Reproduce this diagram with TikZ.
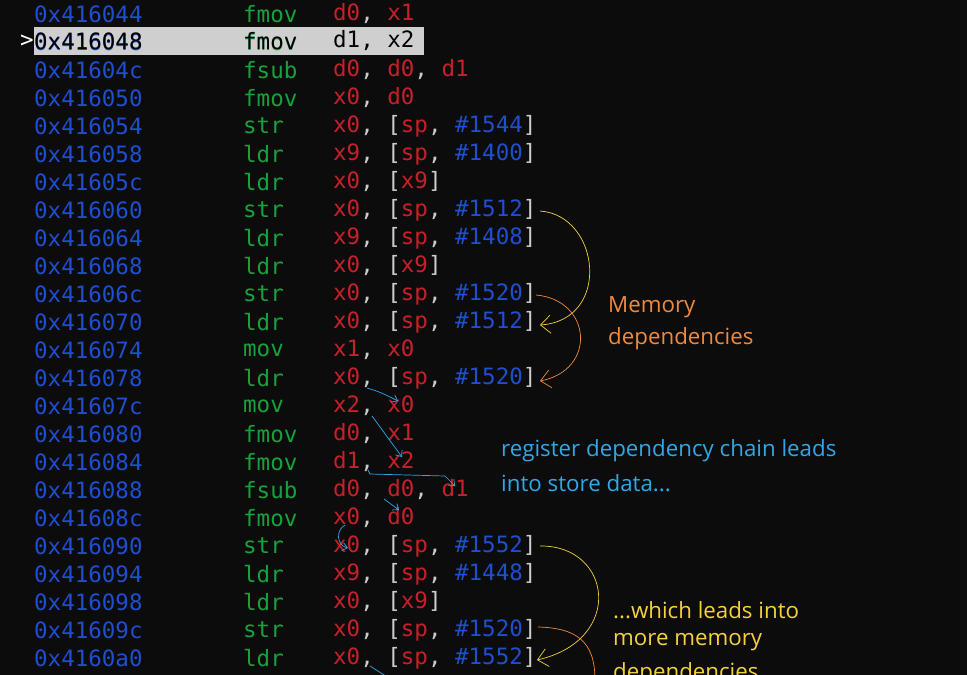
\documentclass[tikz,border=0pt]{standalone}
\usepackage{fontspec}
\setmonofont{DejaVu Sans Mono}
\setsansfont{Open Sans}
\usetikzlibrary{arrows.meta}
\definecolor{bgc}{HTML}{0C0C0C}
\definecolor{addr}{HTML}{1E4FD0}
\definecolor{mnem}{HTML}{16A23C}
\definecolor{reg}{HTML}{C8202A}
\definecolor{punc}{HTML}{CCCCCC}
\definecolor{imm}{HTML}{1E4FD0}
\definecolor{ora}{HTML}{F08A3C}
\definecolor{yel}{HTML}{F5D23C}
\definecolor{cya}{HTML}{30A8E8}
\newcommand{\rg}[1]{\textcolor{reg}{#1}}
\newcommand{\pu}[1]{\textcolor{punc}{#1}}
\newcommand{\im}[1]{\textcolor{imm}{#1}}
\begin{document}
\begin{tikzpicture}[x=1pt,y=-1pt,
  code/.style={anchor=west,inner sep=0pt,font=\ttfamily\fontsize{22.5}{22}\selectfont},
  note/.style={anchor=west,inner sep=0pt,font=\sffamily\fontsize{22.3}{24}\selectfont},
  arr/.style={-{Straight Barb[length=10pt,width=18pt]},line width=0.7pt},
  barr/.style={-{Straight Barb[length=5pt,width=8pt]},cya,line width=0.7pt}]
\fill[bgc] (0,0) rectangle (967,675);
\useasboundingbox (0,0) rectangle (967,675);
\fill[punc!95!white] (34,27) rectangle (424,55);
\node[code,text=white] (gt) at (20,41) {>};
\foreach \i/\a/\m/\o in {
0/0x416044/fmov/{\rg{d0}\pu{,} \rg{x1}},
1/0x416048/fmov/{},
2/0x41604c/fsub/{\rg{d0}\pu{,} \rg{d0}\pu{,} \rg{d1}},
3/0x416050/fmov/{\rg{x0}\pu{,} \rg{d0}},
4/0x416054/str/{\rg{x0}\pu{, [}\rg{sp}\pu{,} \im{\#1544}\pu{]}},
5/0x416058/ldr/{\rg{x9}\pu{, [}\rg{sp}\pu{,} \im{\#1400}\pu{]}},
6/0x41605c/ldr/{\rg{x0}\pu{, [}\rg{x9}\pu{]}},
7/0x416060/str/{\rg{x0}\pu{, [}\rg{sp}\pu{,} \im{\#1512}\pu{]}},
8/0x416064/ldr/{\rg{x9}\pu{, [}\rg{sp}\pu{,} \im{\#1408}\pu{]}},
9/0x416068/ldr/{\rg{x0}\pu{, [}\rg{x9}\pu{]}},
10/0x41606c/str/{\rg{x0}\pu{, [}\rg{sp}\pu{,} \im{\#1520}\pu{]}},
11/0x416070/ldr/{\rg{x0}\pu{, [}\rg{sp}\pu{,} \im{\#1512}\pu{]}},
12/0x416074/mov/{\rg{x1}\pu{,} \rg{x0}},
13/0x416078/ldr/{\rg{x0}\pu{, [}\rg{sp}\pu{,} \im{\#1520}\pu{]}},
14/0x41607c/mov/{\rg{x2}\pu{,} \rg{x0}},
15/0x416080/fmov/{\rg{d0}\pu{,} \rg{x1}},
16/0x416084/fmov/{\rg{d1}\pu{,} \rg{x2}},
17/0x416088/fsub/{\rg{d0}\pu{,} \rg{d0}\pu{,} \rg{d1}},
18/0x41608c/fmov/{\rg{x0}\pu{,} \rg{d0}},
19/0x416090/str/{\rg{x0}\pu{, [}\rg{sp}\pu{,} \im{\#1552}\pu{]}},
20/0x416094/ldr/{\rg{x9}\pu{, [}\rg{sp}\pu{,} \im{\#1448}\pu{]}},
21/0x416098/ldr/{\rg{x0}\pu{, [}\rg{x9}\pu{]}},
22/0x41609c/str/{\rg{x0}\pu{, [}\rg{sp}\pu{,} \im{\#1520}\pu{]}},
23/0x4160a0/ldr/{\rg{x0}\pu{, [}\rg{sp}\pu{,} \im{\#1552}\pu{]}}}{
  \node[code,text=addr] (a\i) at (34,14+28*\i) {\a};
  \node[code,text=mnem] (m\i) at (243,14+28*\i) {\m};
  \node[code] (o\i) at (333,14+28*\i) {\o};
}
\node[code,text=black] (a1b) at (34,41) {0x416048};
\node[code,text=black] (m1b) at (243,41) {fmov};
\node[code,text=black] (o1b) at (333,41) {d1, x2};
\coordinate (y1s) at (540,211);
\coordinate (y1e) at (540,325);
\draw[arr,yel] (y1s) .. controls (600,215) and (612,320) .. (y1e);
\coordinate (o1s) at (536,295);
\coordinate (o1e) at (540,381);
\draw[arr,ora] (o1s) .. controls (592,300) and (597,370) .. (o1e);
\node[note,text=ora] (mem) at (608,307) {Memory};
\node[note,text=ora] (mem2) at (608,339) {dependencies};
\coordinate (c1s) at (367,388); \coordinate (c1e) at (398,401);
\draw[barr] (c1s) .. controls (380,392) .. (c1e);
\coordinate (c2s) at (372,416); \coordinate (c2e) at (402,457);
\draw[barr] (c2s) -- (c2e);
\coordinate (c3s) at (368,470); \coordinate (c3e) at (455,486);
\draw[barr] (c3s) -- (370,474) -- (445,476) -- (c3e);
\coordinate (c4s) at (384,499); \coordinate (c4e) at (399,510);
\draw[barr] (c4s) -- (c4e);
\coordinate (c5s) at (345,525); \coordinate (c5e) at (348,548);
\draw[barr] (c5s) .. controls (336,530) and (336,545) .. (c5e);
\coordinate (c6s) at (370,666); \coordinate (c6e) at (392,680);
\draw[cya,line width=0.7pt] (c6s) -- (c6e);
\node[note,text=cya] (reg1) at (501,451) {register dependency chain leads};
\node[note,text=cya] (reg2) at (501,483) {into store data...};
\coordinate (y2s) at (540,546);
\coordinate (y2e) at (537,660);
\draw[arr,yel] (y2s) .. controls (612,545) and (625,640) .. (y2e);
\coordinate (o2s) at (538,627);
\coordinate (o2e) at (595,680);
\draw[ora,line width=0.7pt] (o2s) .. controls (575,628) and (595,640) .. (o2e);
\node[note,text=yel] (w1) at (613,610) {...which leads into};
\node[note,text=yel] (w2) at (613,642) {more memory};
\node[note,text=yel] (w3) at (613,674) {dependencies};
\end{tikzpicture}
\end{document}
